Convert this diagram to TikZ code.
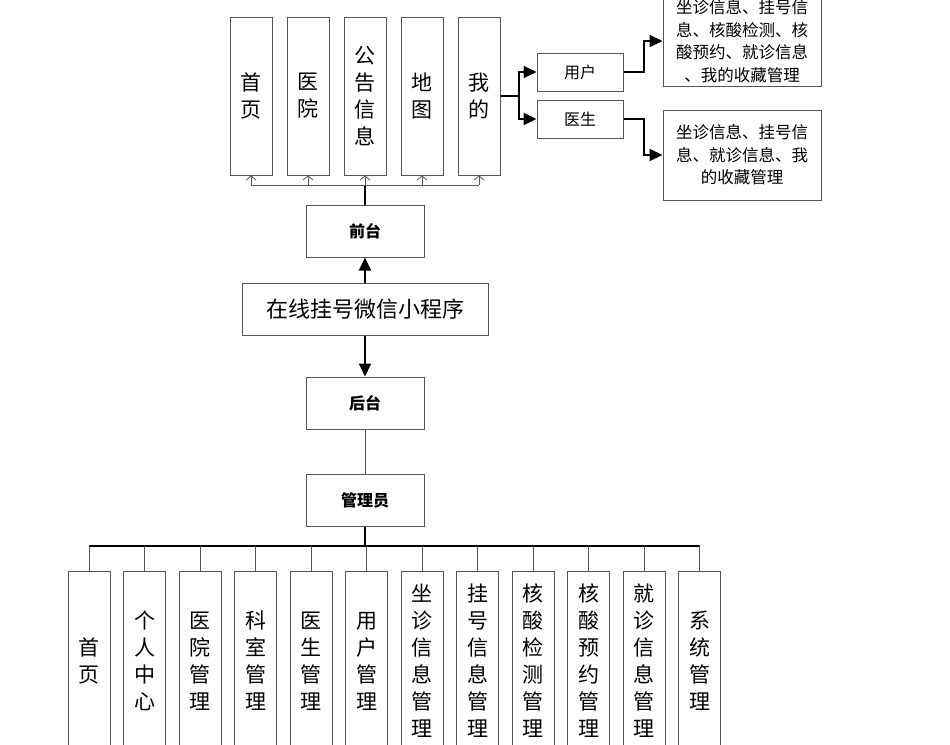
\documentclass[tikz,border=0pt]{standalone}
\usepackage{fontspec}
\setmainfont{Noto Sans CJK SC}
\usepackage{xcolor}
\usetikzlibrary{arrows.meta, positioning, calc}
\definecolor{edgegray}{HTML}{555555}

\begin{document}
\begin{tikzpicture}[
        x=1pt, y=-1pt,
        box/.style={draw=edgegray, line width=1pt, fill=white,
                    inner sep=0pt, align=center},
        colbox/.style={box, minimum width=42pt, minimum height=158pt,
                    font=\fontsize{21}{27}\selectfont},
        lowbox/.style={colbox, minimum height=180pt},
        midbox/.style={box, minimum width=118pt, minimum height=52pt,
                    font=\fontsize{16}{20}\selectfont\bfseries},
        rolebox/.style={box, minimum width=86pt, minimum height=38pt,
                    font=\fontsize{16}{20}\selectfont},
        infobox/.style={box, minimum width=158pt, minimum height=90pt,
                    font=\fontsize{16.5}{22.5}\selectfont},
        bigarr/.style={-{Triangle[length=13pt, width=12pt]}, line width=2pt},
        upar/.style={-{Straight Barb[length=4pt, width=10pt]}, draw=edgegray, line width=0.8pt},
        link/.style={draw=edgegray, line width=1pt}
      ]
        \useasboundingbox (0,0) rectangle (950,744);
        \clip (0,0) rectangle (950,744);

        % front end
        \node[colbox] (home)   at (251,96) {首\\页};
        \node[colbox] (hosp)   at (308,96) {医\\院};
        \node[colbox] (notice) at (365,96) {公\\告\\信\\息};
        \node[colbox] (map)    at (422,96) {地\\图};
        \node[colbox] (mine)   at (479,96) {我\\的};

        \node[midbox] (front) at (365,231) {前台};
        \node[box, minimum width=246pt, minimum height=52pt,
              font=\fontsize{22}{26}\selectfont] (app) at (365,309) {在线挂号微信小程序};
        \node[midbox] (back)  at (365,403) {后台};
        \node[midbox] (admin) at (365,500) {管理员};

        \node[rolebox] (user)   at (580,72)  {用户};
        \node[rolebox] (doctor) at (580,119) {医生};
        \node[infobox] (uinfo) at (742,41)
              {坐诊信息、挂号信\\息、核酸检测、核\\酸预约、就诊信息\\、我的收藏管理};
        \node[infobox] (dinfo) at (742,155)
              {坐诊信息、挂号信\\息、就诊信息、我\\的收藏管理};

        \coordinate (fbus)  at (365,185);
        \coordinate (split) at (519,96);
        \coordinate (abus)  at (365,546);

        \draw[bigarr] (app) -- (front);
        \draw[bigarr] (app) -- (back);
        \draw[link] (back) -- (admin);

        \draw[line width=2pt] (front) -- (fbus);
        \draw[link] (home.south |- fbus) -- (mine.south |- fbus);
        \foreach \n in {home, hosp, notice, map, mine}
          \draw[upar] (\n.south |- fbus) -- (\n.south);

        \draw[bigarr] (mine.east) -- (split) |- (user);
        \draw[bigarr] (split) |- (doctor);
        \draw[bigarr] (user.east) -- ++(20,0) |- (uinfo.west);
        \draw[bigarr] (doctor.east) -- ++(20,0) |- (dinfo.west);

        % back end
        \foreach \t [count=\i] in {{首\\页}, {个\\人\\中\\心}, {医\\院\\管\\理},
            {科\\室\\管\\理}, {医\\生\\管\\理}, {用\\户\\管\\理},
            {坐\\诊\\信\\息\\管\\理}, {挂\\号\\信\\息\\管\\理},
            {核\\酸\\检\\测\\管\\理}, {核\\酸\\预\\约\\管\\理},
            {就\\诊\\信\\息\\管\\理}, {系\\统\\管\\理}}
          \node[lowbox] (adm\i) at ({89+55.5*(\i-1)},661) {\t};

        \draw[line width=2pt] (admin) -- (abus);
        \draw[line width=1.5pt] (adm1.north |- abus) -- (adm12.north |- abus);
        \foreach \i in {1,...,12}
          \draw[link] (adm\i.north |- abus) -- (adm\i.north);
      \end{tikzpicture}
\end{document}
